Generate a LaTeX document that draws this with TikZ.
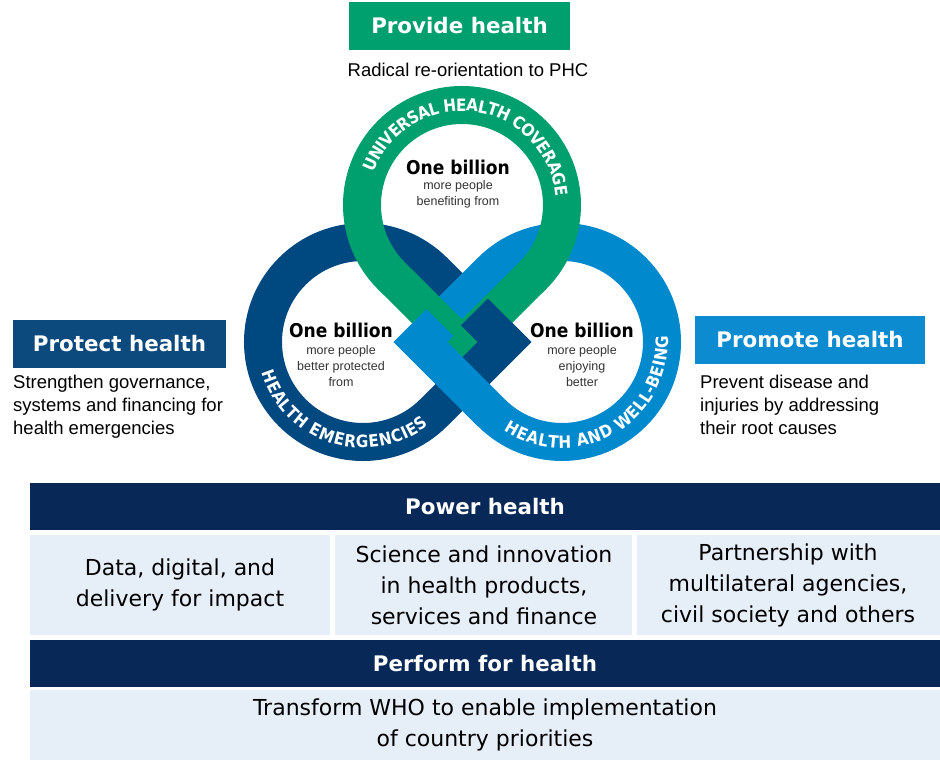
\documentclass[tikz,border=0pt]{standalone}
\usepackage{fontspec}
\setmainfont{Liberation Sans}
\newfontfamily\boxfont{DejaVu Sans}
\newfontfamily\condfont{DejaVu Sans Condensed}
\usetikzlibrary{decorations.text,calc}
\definecolor{cgreen}{RGB}{0,160,110}
\definecolor{cnavy}{RGB}{0,73,128}
\definecolor{cblue}{RGB}{0,137,205}
\definecolor{cdark}{RGB}{8,40,88}
\definecolor{cpale}{RGB}{230,238,248}
\definecolor{bnavy}{RGB}{12,74,126}
\definecolor{bblue}{RGB}{12,139,208}
\newcommand\ringfont{\condfont\bfseries\fontsize{17}{17}\selectfont\color{white}}
\tikzset{
  band/.style={line width=38pt, line join=miter, line cap=butt},
  titlebox/.style={inner sep=0pt, text=white, font=\boxfont\bfseries\fontsize{21.4}{24}\selectfont},
  cellbox/.style={inner sep=0pt, font=\boxfont\fontsize{22}{31}\selectfont, align=center, text=black},
  desc/.style={inner sep=0pt, font=\fontsize{18.5}{23}\selectfont, align=left, anchor=north west},
  big/.style={inner sep=0pt, font=\condfont\bfseries\fontsize{19}{20}\selectfont},
  small/.style={inner sep=0pt, font=\fontsize{12.5}{16}\selectfont, align=center, text=black!80}
}
\begin{document}
\begin{tikzpicture}[x=1pt,y=1pt]
\useasboundingbox (0,0) rectangle (940,772);
\fill[white] (0,0) rectangle (940,772);
% knot
\draw[band,cnavy] (504.4,430) -- (433.7,500.7) arc[start angle=45,end angle=315,radius=100] -- cycle;
\draw[band,cblue] (420.6,430) -- (491.3,359.3) arc[start angle=-135,end angle=135,radius=100] -- cycle;
\draw[band,cgreen] (462,426) -- (532.7,496.3) arc[start angle=-45,end angle=225,radius=100] -- cycle;
\draw[band,cnavy] (474.4,460) -- (504.4,430) -- (474.4,400);
\draw[band,cblue] (491.3,359.3) -- (420.6,430) -- (440,449.4);
% ring texts
\path[decorate,decoration={text along path,text={|\ringfont|UNIVERSAL HEALTH COVERAGE},text align=center,raise=-6pt}]
  ([shift={(175:100)}]462,567) arc[start angle=175,end angle=-10,radius=100];
\path[decorate,decoration={text along path,text={|\ringfont|HEALTH EMERGENCIES},text align=center,raise=-6pt}]
  ([shift={(185:100)}]363,430) arc[start angle=185,end angle=320,radius=100];
\path[decorate,decoration={text along path,text={|\ringfont|HEALTH AND WELL-BEING},text align=center,raise=-6pt}]
  ([shift={(228:100)}]562,430) arc[start angle=228,end angle=372,radius=100];
% ring centres
\node[big] (g1) at (458,605) {One billion};
\node[small] (g2) at (458,578) {more people\\benefiting from};
\node[big] (n1) at (341,442) {One billion};
\node[small] (n2) at (341,406) {more people\\better protected\\from};
\node[big] (b1) at (582,442) {One billion};
\node[small] (b2) at (582,406) {more people\\enjoying\\better};
% side boxes
\fill[cgreen] (349,722) rectangle (570,770);
\node[titlebox] (prov) at (459.5,746) {Provide health};
\node[inner sep=0pt,font=\fontsize{18.5}{20}\selectfont] (rad) at (468,702) {Radical re-orientation to PHC};
\fill[bnavy] (13,404) rectangle (226,452);
\node[titlebox] (prot) at (119.5,428) {Protect health};
\node[desc] (protd) at (13,397) {Strengthen governance,\\systems and financing for\\health emergencies};
\fill[bblue] (695,408) rectangle (925,456);
\node[titlebox] (prom) at (810,432) {Promote health};
\node[desc] (promd) at (700,397) {Prevent disease and\\injuries by addressing\\their root causes};
% bottom table
\fill[cdark] (30,242) rectangle (940,289);
\node[titlebox] (pow) at (485,265) {Power health};
\fill[cpale] (30,137) rectangle (330,237);
\fill[cpale] (335,137) rectangle (632,237);
\fill[cpale] (637,137) rectangle (940,237);
\node[cellbox] (c1) at (180,187) {Data, digital, and\\delivery for impact};
\node[cellbox] (c2) at (484,187) {Science and innovation\\in health products,\\services and finance};
\node[cellbox] (c3) at (788,187) {Partnership with\\multilateral agencies,\\civil society and others};
\fill[cdark] (30,85) rectangle (940,132);
\node[titlebox] (perf) at (485,108) {Perform for health};
\fill[cpale] (30,12) rectangle (940,82);
\node[cellbox] (tr) at (485,47) {Transform WHO to enable implementation\\of country priorities};
\end{tikzpicture}
\end{document}
